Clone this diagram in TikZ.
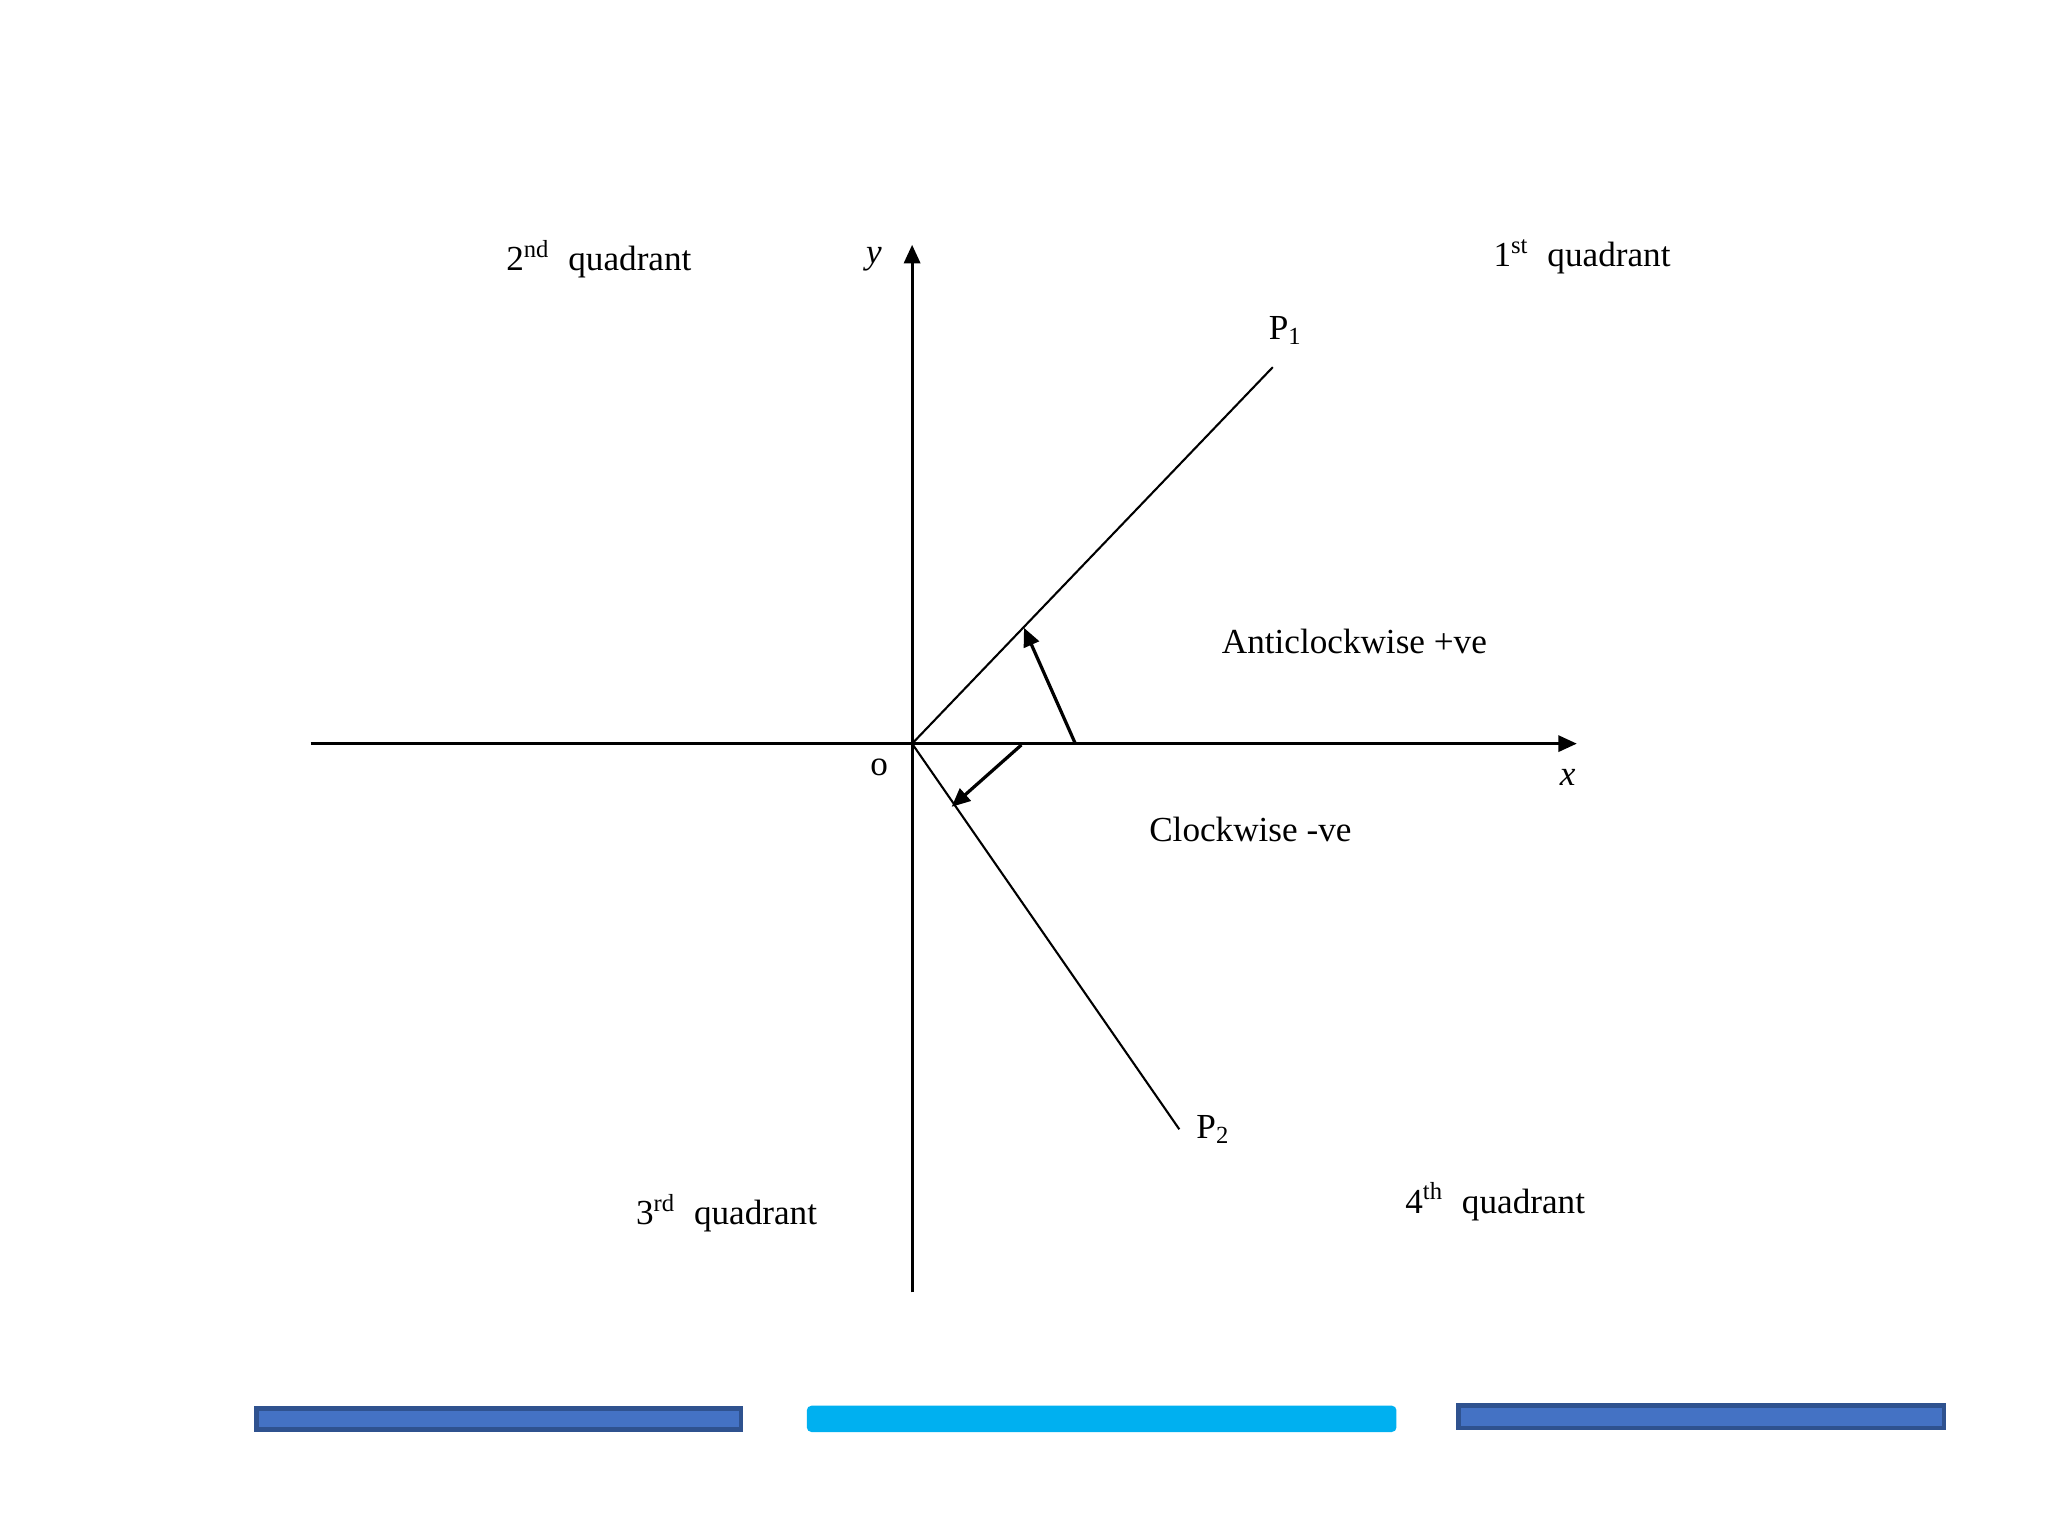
\documentclass[tikz,border=0pt]{standalone}
\usepackage{fontspec}
\setmainfont{Liberation Serif}
\usetikzlibrary{arrows.meta}
\definecolor{barblue}{HTML}{4472C4}
\definecolor{bardark}{HTML}{2F528F}
\definecolor{barcyan}{HTML}{00B0F0}
\begin{document}
\begin{tikzpicture}[x=0.01cm,y=-0.01cm,
  lbl/.style={font=\fontsize{7.6}{9}\selectfont,inner sep=0pt},
  ax/.style={line width=0.6pt,-{Triangle[length=4pt,width=3.5pt]}},
  ln/.style={line width=0.45pt},
  rot/.style={line width=0.7pt,-{Triangle[length=4pt,width=3.5pt]}}]
\useasboundingbox (0,0) rectangle (1556,1167);
\coordinate (O) at (693,565);
\coordinate (xl) at (236,565);
\coordinate (xr) at (1198,565);
\coordinate (yb) at (693,982);
\coordinate (yt) at (693,186);
\coordinate (p1) at (967,279);
\coordinate (p2) at (896,858);
\coordinate (a1) at (817,565);
\coordinate (a2) at (778,477);
\coordinate (c1) at (776,566);
\coordinate (c2) at (723,613);
\draw[ax] (xl) -- (xr);
\draw[ax] (yb) -- (yt);
\draw[ln] (O) -- (p1);
\draw[ln] (O) -- (p2);
\draw[rot] (a1) -- (a2);
\draw[rot] (c1) -- (c2);
\node[lbl] (q2) at (455,197) {2\textsuperscript{nd}\enspace quadrant};
\node[lbl] (ly) at (664,197) {\itshape y};
\node[lbl] (q1) at (1202,195) {1\textsuperscript{st}\enspace quadrant};
\node[lbl] (lp1) at (977,251) {P\textsubscript{1}};
\node[lbl] (acw) at (1029,487) {Anticlockwise +ve};
\node[lbl] (lo) at (668,583) {o};
\node[lbl] (lx) at (1191,591) {\itshape x};
\node[lbl] (cw) at (950,630) {Clockwise -ve};
\node[lbl] (lp2) at (922,858) {P\textsubscript{2}};
\node[lbl] (q3) at (552,922) {3\textsuperscript{rd}\enspace quadrant};
\node[lbl] (q4) at (1136,913) {4\textsuperscript{th}\enspace quadrant};
\draw[bardark,fill=barblue,line width=1pt] (195,1070) rectangle (563,1086);
\fill[barcyan,rounded corners=1pt] (613,1068) rectangle (1061,1088);
\draw[bardark,fill=barblue,line width=1pt] (1108,1068) rectangle (1477,1085);
\end{tikzpicture}
\end{document}
